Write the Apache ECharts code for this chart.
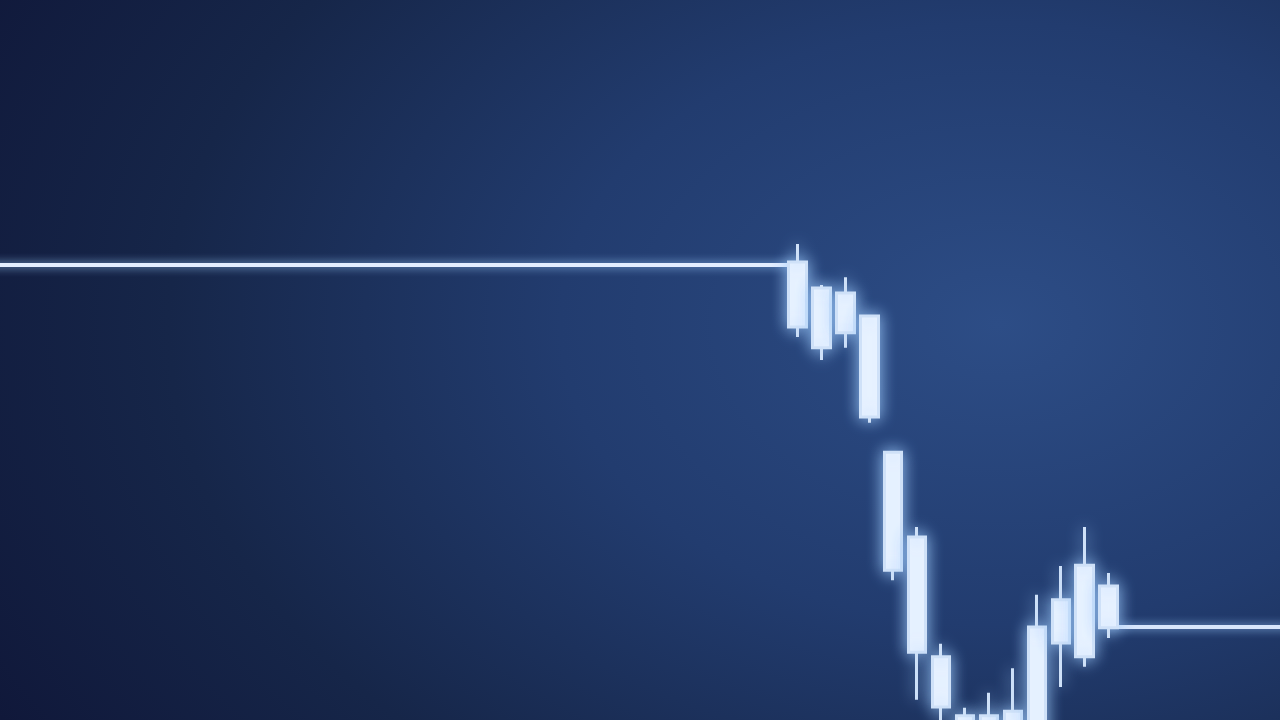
<!DOCTYPE html>
<html>
<head>
<meta charset="utf-8">
<script src="https://cdn.jsdelivr.net/npm/echarts@6/dist/echarts.min.js"></script>
<style>
html,body{margin:0;padding:0;width:1280px;height:720px;overflow:hidden;}
body{position:relative;background: radial-gradient(ellipse 90% 110% at 78% 45%, #2d4d86 0%, #223c6f 38%, #162649 72%, #10183a 100%);}
#chart{position:absolute;left:-28px;top:0;width:1340px;height:720px;}
</style>
</head>
<body>
<div id="chart"></div>
<script>
// Price level before the drop and after the rebound
const levelBefore = 63.2;
const levelAfter = 12.9;
// Number of flat periods before the candles and after
const flatBeforeCount = 34;   // indices 0..33 (joins first candle's open)
const flatAfterCount = 8;     // periods after the last candle
// Candles: [open, close, low, high]
const candleOpen  = [63.6, 60.0, 59.3, 56.1, 37.2, 25.4, 8.8, 0.6, 0.6, 1.2, -2.8, 10.7, 8.8, 12.8];
const candleClose = [54.6, 51.7, 53.8, 42.1, 20.8, 9.4, 1.8, -5.6, -4.2, -2.8, 12.9, 16.7, 21.5, 18.6];
const candleLow   = [53.2, 50.0, 51.7, 41.3, 19.4, 2.8, -1.4, -6.9, -6.0, -4.0, -4.0, 4.6, 7.4, 11.4];
const candleHigh  = [66.1, 60.4, 61.5, 56.1, 37.2, 26.8, 10.6, 1.7, 3.8, 7.2, 17.4, 21.4, 26.8, 20.4];

const totalCount = flatBeforeCount + candleOpen.length + flatAfterCount;
const categories = [];
for (let i = 0; i < totalCount; i++) categories.push(String(i));

const firstCandle = flatBeforeCount;
const lastCandle = firstCandle + candleOpen.length - 1;
const candleData = [];
const lineBefore = [];
const lineAfter = [];
for (let i = 0; i < totalCount; i++) {
  const k = i - firstCandle;
  if (k >= 0 && k < candleOpen.length) {
    candleData.push([candleOpen[k], candleClose[k], candleLow[k], candleHigh[k]]);
  } else {
    candleData.push('-');
  }
  lineBefore.push(i < firstCandle ? levelBefore : (i === firstCandle ? levelBefore : '-'));
  lineAfter.push(i >= lastCandle ? levelAfter : '-');
}

const chart = echarts.init(document.getElementById('chart'), null, {renderer: 'canvas'});
const glow = 'rgba(160,205,255,0.9)';
chart.setOption({
  backgroundColor: 'transparent',
  animation: false,
  grid: {left: 0, right: 0, top: 0, bottom: 0},
  xAxis: {
    type: 'category', data: categories, boundaryGap: true,
    axisLine: {show: false}, axisTick: {show: false}, axisLabel: {show: false}, splitLine: {show: false}
  },
  yAxis: {
    type: 'value', min: 0, max: 100,
    axisLine: {show: false}, axisTick: {show: false}, axisLabel: {show: false}, splitLine: {show: false}
  },
  series: [
    {
      type: 'line', data: lineBefore, symbol: 'none', z: 1,
      lineStyle: {color: '#e4eeff', width: 4, shadowBlur: 10, shadowColor: glow}
    },
    {
      type: 'line', data: lineAfter, symbol: 'none', z: 1,
      lineStyle: {color: '#d8e6fb', width: 4, shadowBlur: 10, shadowColor: glow}
    },
    {
      type: 'candlestick', data: candleData, barWidth: 18, z: 3,
      itemStyle: {
        color: '#f4f8ff', color0: '#f4f8ff',
        borderColor: '#cfe1f8', borderColor0: '#cfe1f8',
        borderWidth: 3,
        shadowBlur: 16, shadowColor: glow
      }
    }
  ]
});
</script>
</body>
</html>
